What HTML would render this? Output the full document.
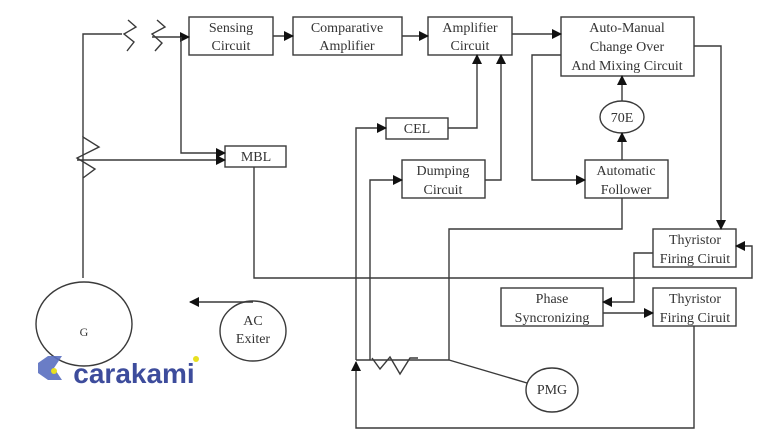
<!DOCTYPE html>
<html><head><meta charset="utf-8"><style>
body{margin:0;background:#fff;}
svg{display:block;}
text{font-family:"Liberation Serif",serif;font-size:14px;fill:#333;text-anchor:middle;}
</style></head><body>
<svg width="768" height="432" viewBox="0 0 768 432" xmlns="http://www.w3.org/2000/svg">
<defs>
<marker id="a" markerWidth="10" markerHeight="10" refX="9" refY="5" orient="auto" markerUnits="userSpaceOnUse"><path d="M0,0 L10,5 L0,10 z" fill="#111"/></marker>
</defs>
<g fill="none" stroke="#3a3a3a" stroke-width="1.4">
<rect x="189" y="17" width="84" height="38"/>
<rect x="293" y="17" width="109" height="38"/>
<rect x="428" y="17" width="84" height="38"/>
<rect x="561" y="17" width="133" height="59"/>
<ellipse cx="622" cy="117" rx="22" ry="16"/>
<rect x="585" y="160" width="83" height="38"/>
<rect x="386" y="118" width="62" height="21"/>
<rect x="402" y="160" width="83" height="38"/>
<rect x="225" y="146" width="61" height="21"/>
<rect x="653" y="229" width="83" height="38"/>
<rect x="501" y="288" width="102" height="38"/>
<rect x="653" y="288" width="83" height="38"/>
<ellipse cx="552" cy="390" rx="26" ry="22"/>
<ellipse cx="84" cy="324" rx="48" ry="42"/>
<ellipse cx="253" cy="331" rx="33" ry="30"/>
</g>
<g fill="none" stroke="#3a3a3a" stroke-width="1.4">
<polyline points="83,278 83,137 99,147 77,158 95,169 83,178"/>
<polyline points="83,137 83,34 122,34"/>
<polyline points="128,20 136,27 124,34 134,42 127,51"/>
<polyline points="157,20 165,27 152,34 162,43 155,51"/>
<line x1="152" y1="37" x2="189" y2="37" marker-end="url(#a)"/>
<polyline points="181,37 181,153 225,153" marker-end="url(#a)"/>
<line x1="77" y1="160" x2="225" y2="160" marker-end="url(#a)"/>
<line x1="273" y1="36" x2="293" y2="36" marker-end="url(#a)"/>
<line x1="402" y1="36" x2="428" y2="36" marker-end="url(#a)"/>
<line x1="512" y1="34" x2="561" y2="34" marker-end="url(#a)"/>
<polyline points="448,128 477,128 477,55" marker-end="url(#a)"/>
<polyline points="485,180 501,180 501,55" marker-end="url(#a)"/>
<polyline points="561,55 532,55 532,180 585,180" marker-end="url(#a)"/>
<line x1="622" y1="160" x2="622" y2="133" marker-end="url(#a)"/>
<line x1="622" y1="101" x2="622" y2="76" marker-end="url(#a)"/>
<polyline points="622,198 622,229 449,229 449,360"/>
<polyline points="694,46 721,46 721,229" marker-end="url(#a)"/>
<polyline points="254,167 254,278 752,278 752,246 736,246" marker-end="url(#a)"/>
<polyline points="653,253 634,253 634,302 603,302" marker-end="url(#a)"/>
<line x1="603" y1="313" x2="653" y2="313" marker-end="url(#a)"/>
<polyline points="694,326 694,428 356,428 356,362" marker-end="url(#a)"/>
<polyline points="356,360 356,128 386,128" marker-end="url(#a)"/>
<polyline points="370,360 370,180 402,180" marker-end="url(#a)"/>
<line x1="356" y1="360" x2="449" y2="360"/>
<polyline points="372,358 380,369 390,357 400,374 410,358 418,358"/>
<line x1="449" y1="360" x2="527" y2="383"/>
<line x1="253" y1="302" x2="190" y2="302" marker-end="url(#a)"/>
</g>
<text x="231" y="32">Sensing</text><text x="231" y="50">Circuit</text>
<text x="347" y="32">Comparative</text><text x="347" y="50">Amplifier</text>
<text x="470" y="32">Amplifier</text><text x="470" y="50">Circuit</text>
<text x="627" y="32">Auto-Manual</text><text x="627" y="51">Change Over</text><text x="627" y="70">And Mixing Circuit</text>
<text x="622" y="122">70E</text>
<text x="626" y="175">Automatic</text><text x="626" y="194">Follower</text>
<text x="417" y="133">CEL</text>
<text x="443" y="175">Dumping</text><text x="443" y="194">Circuit</text>
<text x="256" y="161">MBL</text>
<text x="695" y="244">Thyristor</text><text x="695" y="263">Firing Ciruit</text>
<text x="552" y="303">Phase</text><text x="552" y="322">Syncronizing</text>
<text x="695" y="303">Thyristor</text><text x="695" y="322">Firing Ciruit</text>
<text x="552" y="394">PMG</text>
<text x="84" y="336" style="font-size:12px">G</text>
<text x="253" y="325">AC</text><text x="253" y="343">Exiter</text>
<path d="M48,356 L62,356 L54,368 L62,380 L48,380 L38,373 L38,363 Z" fill="#5a6fc0" opacity="0.9"/>
<circle cx="54" cy="371" r="3" fill="#e8e020"/>
<circle cx="196" cy="359" r="3" fill="#e8e020"/>
<text x="134" y="383" style="font-family:'Liberation Sans',sans-serif;font-size:28px;font-weight:bold;fill:#3d4c9c;">carakami</text>
</svg>
</body></html>
